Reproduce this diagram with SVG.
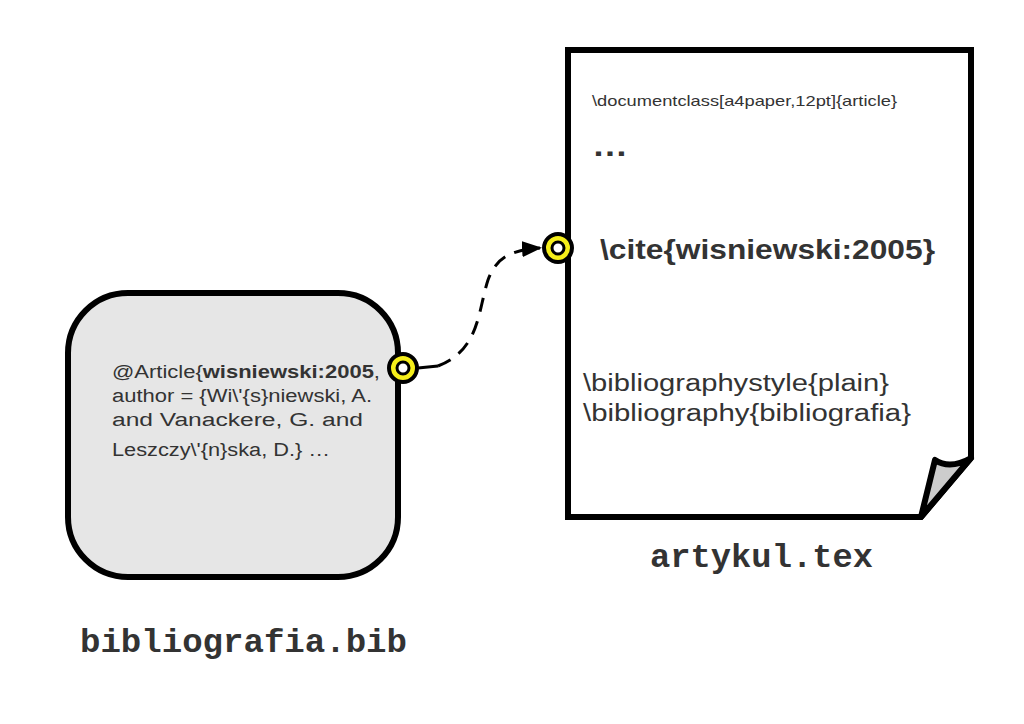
<svg xmlns="http://www.w3.org/2000/svg" width="1024" height="724" viewBox="0 0 1024 724">
<style>
.t{font-family:"Liberation Sans",Arial,sans-serif;fill:#333}
.m{font-family:"Liberation Mono","Courier New",monospace;font-weight:bold;fill:#333;font-size:33px}
.port{fill:#f5ee1a;stroke:#000;stroke-width:4}
.hole{fill:#fff;stroke:#000;stroke-width:3}
</style>
<defs>
<marker id="a" viewBox="0 0 10 10" refX="9" refY="5" markerWidth="20" markerHeight="16" markerUnits="userSpaceOnUse" orient="auto" preserveAspectRatio="none"><path d="M0,0 L10,5 L0,10 Z" fill="#000"/></marker></defs>
<rect width="1024" height="724" fill="#fff"/>
<g id="bib">
<rect x="68" y="293" width="330" height="284" rx="60" fill="#e6e6e6" stroke="#000" stroke-width="6"/>
<text class="t" font-size="18" x="112" y="378" textLength="268" lengthAdjust="spacingAndGlyphs">@Article{<tspan font-weight="bold">wisniewski:2005</tspan>,</text>
<text class="t" font-size="18" x="112" y="402" textLength="260" lengthAdjust="spacingAndGlyphs">author = {Wi\'{s}niewski, A.</text>
<text class="t" font-size="18" x="112" y="426" textLength="251" lengthAdjust="spacingAndGlyphs">and Vanackere, G. and</text>
<text class="t" font-size="18" x="112" y="456" textLength="218" lengthAdjust="spacingAndGlyphs">Leszczy\'{n}ska, D.} …</text>
<text class="m" x="80" y="652" textLength="327" lengthAdjust="spacingAndGlyphs">bibliografia.bib</text>
</g>
<g id="tex">
<path d="M568,50 L971,50 L971,458 L921,517 L568,517 Z" fill="#fff" stroke="#000" stroke-width="6" stroke-linejoin="miter"/>
<path d="M971,458 Q950,470 935,460 L921,517 Z" fill="#ccc" stroke="#000" stroke-width="6" stroke-linejoin="round"/>
<text class="t" font-size="15" x="592" y="106" textLength="305" lengthAdjust="spacingAndGlyphs">\documentclass[a4paper,12pt]{article}</text>
<text class="t" font-size="30" font-weight="bold" x="592" y="156" textLength="36" lengthAdjust="spacingAndGlyphs">…</text>
<text class="t" font-size="27" font-weight="bold" x="600" y="259" textLength="335" lengthAdjust="spacingAndGlyphs">\cite{wisniewski:2005}</text>
<text class="t" font-size="23" x="583" y="391" textLength="306" lengthAdjust="spacingAndGlyphs">\bibliographystyle{plain}</text>
<text class="t" font-size="23" x="583" y="421" textLength="328" lengthAdjust="spacingAndGlyphs">\bibliography{bibliografia}</text>
<text class="m" x="650" y="567" textLength="223" lengthAdjust="spacingAndGlyphs">artykul.tex</text>
</g>
<g id="connectors">
<path d="M418,368 L438,366" stroke="#000" stroke-width="3" fill="none"/>
<path d="M438,366 C480,350 478,310 488,280 C496,258 510,250 540,248" stroke="#000" stroke-width="3" fill="none" stroke-dasharray="14,10" marker-end="url(#a)"/>
</g>
<g id="ports">
<circle class="port" cx="403" cy="368" r="14"/><circle class="hole" cx="403" cy="368" r="6"/>
<circle class="port" cx="558" cy="248" r="14"/><circle class="hole" cx="558" cy="248" r="6"/>
</g>
</svg>
